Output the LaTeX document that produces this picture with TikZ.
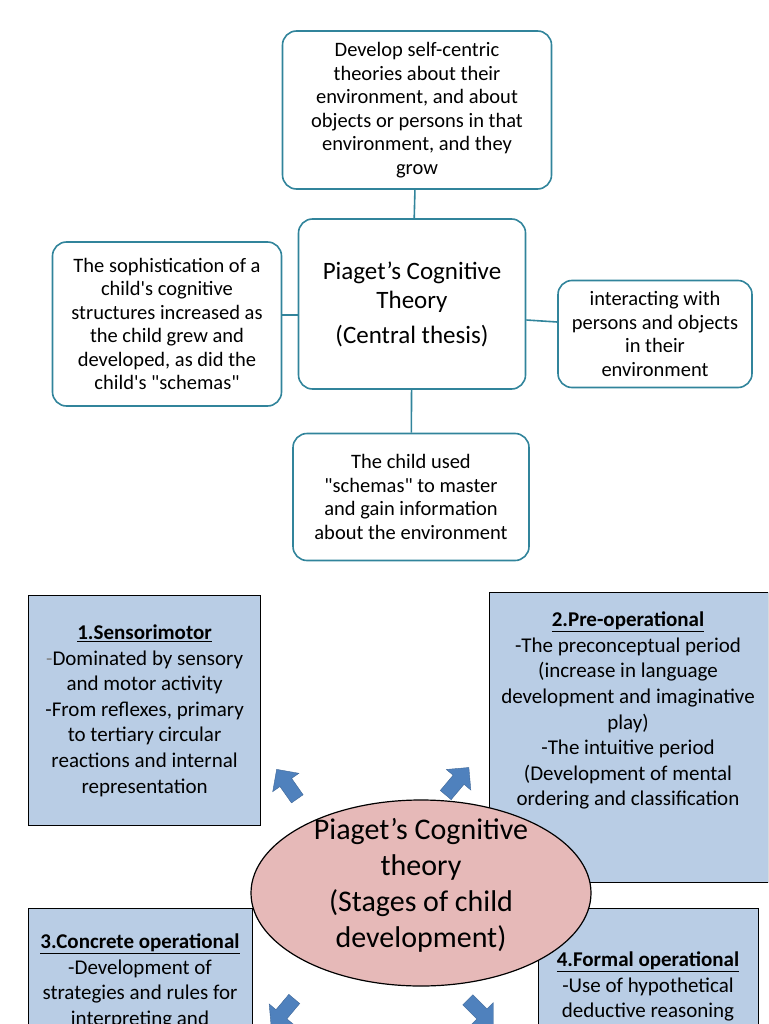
\documentclass[tikz,border=0pt]{standalone}
\usepackage{fontspec}
\setmainfont{Carlito}
\usetikzlibrary{shapes.geometric,shapes.arrows}
\definecolor{tealline}{HTML}{31849B}
\definecolor{stagefill}{HTML}{B9CDE5}
\definecolor{ovalfill}{HTML}{E6B9B8}
\definecolor{arrowblue}{HTML}{4F81BD}
\tikzset{
  idea/.style={draw=tealline,line width=1.6pt,rounded corners=14pt,align=center,
    font=\fontsize{20.5}{23.5}\selectfont},
  stage/.style={draw=black,line width=1.2pt,fill=stagefill,align=center,
    font=\fontsize{21}{25.6}\selectfont},
  bigarrow/.style={single arrow,fill=arrowblue,draw=arrowblue!80!black,line width=0.4pt,
    minimum height=36pt,minimum width=32pt,single arrow head extend=4pt,inner sep=3pt}
}
\begin{document}
\begin{tikzpicture}[x=1pt,y=-1pt]
  \useasboundingbox[clip] (0,0) rectangle (768,1024);
  % top concept map
  \node[idea,minimum width=269pt,minimum height=158pt] (dev) at (417,110)
    {Develop self-centric\\theories about their\\environment, and about\\objects or persons in that\\environment, and they\\grow};
  \node[idea,minimum width=227pt,minimum height=170pt,font=\fontsize{25}{29}\selectfont] (thesis) at (412,304)
    {Piaget’s Cognitive\\Theory\\[6pt](Central thesis)};
  \node[idea,minimum width=229pt,minimum height=164pt] (soph) at (167,324)
    {The sophistication of a\\child\textquotesingle s cognitive\\structures increased as\\the child grew and\\developed, as did the\\child\textquotesingle s \textquotedbl schemas\textquotedbl};
  \node[idea,minimum width=194pt,minimum height=107pt] (inter) at (655,334)
    {interacting with\\persons and objects\\in their\\environment};
  \node[idea,minimum width=236pt,minimum height=127pt] (schema) at (411,497)
    {The child used\\\textquotedbl schemas\textquotedbl{} to master\\and gain information\\about the environment};
  \draw[tealline,line width=1.6pt] (dev) -- (thesis);
  \draw[tealline,line width=1.6pt] (thesis.west |- 0,315) -- (soph.east |- 0,315);
  \draw[tealline,line width=1.6pt] (thesis.east |- 0,320) -- (inter.west |- 0,322);
  \draw[tealline,line width=1.6pt] (thesis) -- (schema);
  % stages
  \node[stage,minimum width=232pt,minimum height=230pt,anchor=north west] (sensor) at (28,595)
    {\textbf{\underline{1.Sensorimotor}}\\{\color{gray}-}Dominated by sensory\\and motor activity\\-From reflexes, primary\\to tertiary circular\\reactions and internal\\representation};
  \node[stage,minimum width=279pt,minimum height=290pt,anchor=north west] (preop) at (489,592) {};
  \node[stage,draw=none,fill=none,anchor=north] (preoptext) at (628,608)
    {\textbf{\underline{2.Pre-operational}}\\-The preconceptual period\\(increase in language\\development and imaginative\\play)\\-The intuitive period\\(Development of mental\\ordering and classification};
  \node[stage,minimum width=224pt,minimum height=150pt,anchor=north west] (concrete) at (28,908) {};
  \node[stage,draw=none,fill=none,anchor=north] (concretetext) at (140,930)
    {\textbf{\underline{3.Concrete operational}}\\-Development of\\strategies and rules for\\interpreting and};
  \node[stage,minimum width=220pt,minimum height=150pt,anchor=north west] (formal) at (538,908) {};
  \node[stage,draw=none,fill=none,anchor=north] (formaltext) at (648,948)
    {\textbf{\underline{4.Formal operational}}\\-Use of hypothetical\\deductive reasoning};
  \node[ellipse,draw=black,line width=1.2pt,fill=ovalfill,minimum width=340pt,minimum height=186pt,
    inner sep=0pt,align=center,font=\fontsize{30}{36}\selectfont] (theory) at (421,893)
    {\\[-30pt]Piaget’s Cognitive\\theory\\(Stages of child\\development)};
  % block arrows
  \node[bigarrow,rotate=125] (up-left) at (289,787) {};
  \node[bigarrow,rotate=50] (up-right) at (455,784) {};
  \node[bigarrow,rotate=-130] (down-left) at (285,1010) {};
  \node[bigarrow,rotate=-45] (down-right) at (478,1010) {};
\end{tikzpicture}
\end{document}
